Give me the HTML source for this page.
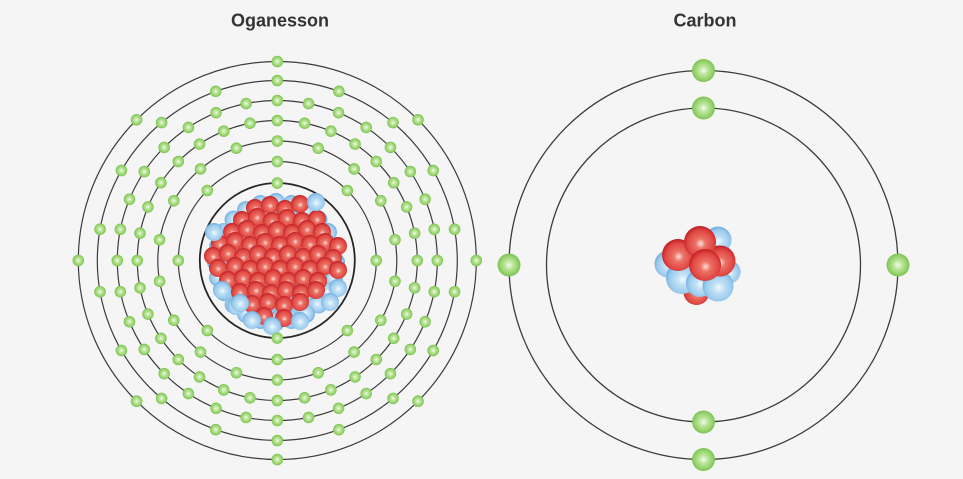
<!DOCTYPE html>
<html><head><meta charset="utf-8"><style>
html,body{margin:0;padding:0;background:#f5f5f5;width:963px;height:479px;overflow:hidden;}
svg{display:block;}
</style></head><body>
<svg width="963" height="479" viewBox="0 0 963 479" xmlns="http://www.w3.org/2000/svg" xmlns:xlink="http://www.w3.org/1999/xlink">
<defs>
<radialGradient id="gg" cx="50%" cy="50%" r="50%">
<stop offset="0" stop-color="#f4fbec"/><stop offset="0.35" stop-color="#bfe6a0"/><stop offset="0.8" stop-color="#92d168"/><stop offset="1" stop-color="#7cc152"/>
</radialGradient>
<radialGradient id="gr" cx="52%" cy="55%" r="52%">
<stop offset="0" stop-color="#fbe0d8"/><stop offset="0.3" stop-color="#ec7267"/><stop offset="0.8" stop-color="#df4641"/><stop offset="1" stop-color="#c4262a"/>
</radialGradient>
<radialGradient id="gb" cx="52%" cy="55%" r="52%">
<stop offset="0" stop-color="#f2f9fe"/><stop offset="0.35" stop-color="#bfe0f5"/><stop offset="0.8" stop-color="#9ccbee"/><stop offset="1" stop-color="#78b2e0"/>
</radialGradient>
<circle id="E" r="11.5" fill="url(#gg)"/>
<circle id="e1" cy="-77.5" r="5.8" fill="url(#gg)"/>
<circle id="e2" cy="-99" r="5.8" fill="url(#gg)"/>
<circle id="e3" cy="-119.5" r="5.8" fill="url(#gg)"/>
<circle id="e4" cy="-140" r="5.8" fill="url(#gg)"/>
<circle id="e5" cy="-160" r="5.8" fill="url(#gg)"/>
<circle id="e6" cy="-180" r="5.8" fill="url(#gg)"/>
<circle id="e7" cy="-199" r="5.8" fill="url(#gg)"/>
<circle id="rs" r="9" fill="url(#gr)"/>
<circle id="bs" r="9" fill="url(#gb)"/>
<circle id="b1" cy="-60" r="9" fill="url(#gb)"/>
<circle id="b2" cy="-45" r="9" fill="url(#gb)"/>
</defs>

<rect x="0" y="0" width="963" height="479" fill="#f5f5f5"/>

<text x="280" y="26.5" font-family="Liberation Sans, sans-serif" font-weight="bold" font-size="18" text-anchor="middle" fill="#333333">Oganesson</text>
<text x="705" y="26.5" font-family="Liberation Sans, sans-serif" font-weight="bold" font-size="18" text-anchor="middle" fill="#333333">Carbon</text>

<g transform="translate(277.3,260.5)" fill="none">
<circle r="77.5" stroke="#262626" stroke-width="1.8"/>
<circle r="99" stroke="#3c3c3c" stroke-width="1.2"/>
<circle r="119.5" stroke="#3c3c3c" stroke-width="1.2"/>
<circle r="140" stroke="#3c3c3c" stroke-width="1.2"/>
<circle r="160" stroke="#3c3c3c" stroke-width="1.2"/>
<circle r="180" stroke="#3c3c3c" stroke-width="1.2"/>
<circle r="199" stroke="#3c3c3c" stroke-width="1.2"/>
</g>

<circle cx="276" cy="262" r="60" fill="#9ccbee"/>
<g transform="translate(276,262)">
<use href="#b1"/><use href="#b1" transform="rotate(15)"/><use href="#b1" transform="rotate(30)"/><use href="#b1" transform="rotate(45)"/><use href="#b1" transform="rotate(60)"/><use href="#b1" transform="rotate(75)"/>
<use href="#b1" transform="rotate(90)"/><use href="#b1" transform="rotate(105)"/><use href="#b1" transform="rotate(120)"/><use href="#b1" transform="rotate(135)"/><use href="#b1" transform="rotate(150)"/><use href="#b1" transform="rotate(165)"/>
<use href="#b1" transform="rotate(180)"/><use href="#b1" transform="rotate(195)"/><use href="#b1" transform="rotate(210)"/><use href="#b1" transform="rotate(225)"/><use href="#b1" transform="rotate(240)"/><use href="#b1" transform="rotate(255)"/>
<use href="#b1" transform="rotate(270)"/><use href="#b1" transform="rotate(285)"/><use href="#b1" transform="rotate(300)"/><use href="#b1" transform="rotate(315)"/><use href="#b1" transform="rotate(330)"/><use href="#b1" transform="rotate(345)"/>
<use href="#b2" transform="rotate(10)"/><use href="#b2" transform="rotate(30)"/><use href="#b2" transform="rotate(50)"/><use href="#b2" transform="rotate(70)"/><use href="#b2" transform="rotate(90)"/><use href="#b2" transform="rotate(110)"/>
<use href="#b2" transform="rotate(130)"/><use href="#b2" transform="rotate(150)"/><use href="#b2" transform="rotate(170)"/><use href="#b2" transform="rotate(190)"/><use href="#b2" transform="rotate(210)"/><use href="#b2" transform="rotate(230)"/>
<use href="#b2" transform="rotate(250)"/><use href="#b2" transform="rotate(270)"/><use href="#b2" transform="rotate(290)"/><use href="#b2" transform="rotate(310)"/><use href="#b2" transform="rotate(330)"/><use href="#b2" transform="rotate(350)"/>
</g>

<g>
<use href="#rs" x="255" y="208"/><use href="#rs" x="270" y="205"/><use href="#rs" x="285" y="209"/><use href="#rs" x="300" y="204"/>
<use href="#rs" x="242" y="220"/><use href="#rs" x="257" y="217"/><use href="#rs" x="272" y="221"/><use href="#rs" x="287" y="218"/><use href="#rs" x="302" y="221"/><use href="#rs" x="317" y="219"/>
<use href="#rs" x="232" y="232"/><use href="#rs" x="247" y="229"/><use href="#rs" x="262" y="233"/><use href="#rs" x="277" y="230"/><use href="#rs" x="292" y="233"/><use href="#rs" x="307" y="229"/><use href="#rs" x="322" y="232"/>
<use href="#rs" x="220" y="244"/><use href="#rs" x="235" y="241"/><use href="#rs" x="250" y="245"/><use href="#rs" x="265" y="242"/><use href="#rs" x="280" y="245"/><use href="#rs" x="295" y="241"/><use href="#rs" x="310" y="244"/><use href="#rs" x="325" y="242"/><use href="#rs" x="338" y="246"/>
<use href="#rs" x="213" y="256"/><use href="#rs" x="228" y="253"/><use href="#rs" x="243" y="257"/><use href="#rs" x="258" y="254"/><use href="#rs" x="273" y="257"/><use href="#rs" x="288" y="254"/><use href="#rs" x="303" y="257"/><use href="#rs" x="318" y="254"/><use href="#rs" x="333" y="258"/>
<use href="#rs" x="218" y="268"/><use href="#rs" x="235" y="266"/><use href="#rs" x="250" y="269"/><use href="#rs" x="265" y="266"/><use href="#rs" x="280" y="269"/><use href="#rs" x="295" y="266"/><use href="#rs" x="310" y="269"/><use href="#rs" x="325" y="266"/><use href="#rs" x="338" y="270"/>
<use href="#rs" x="228" y="280"/><use href="#rs" x="243" y="278"/><use href="#rs" x="258" y="281"/><use href="#rs" x="273" y="278"/><use href="#rs" x="288" y="281"/><use href="#rs" x="303" y="278"/><use href="#rs" x="318" y="281"/>
<use href="#rs" x="240" y="292"/><use href="#rs" x="256" y="290"/><use href="#rs" x="271" y="293"/><use href="#rs" x="286" y="290"/><use href="#rs" x="301" y="293"/><use href="#rs" x="316" y="290"/>
<use href="#rs" x="252" y="304"/><use href="#rs" x="268" y="302"/><use href="#rs" x="284" y="305"/><use href="#rs" x="300" y="302"/>
<use href="#rs" x="264" y="316"/><use href="#rs" x="284" y="318"/>
</g>
<g>
<use href="#bs" x="214" y="232"/><use href="#bs" x="222" y="290"/><use href="#bs" x="236" y="306"/><use href="#bs" x="252" y="320"/>
<use href="#bs" x="300" y="321"/><use href="#bs" x="338" y="288"/><use href="#bs" x="330" y="302"/><use href="#bs" x="316" y="202"/>
<use href="#bs" x="240" y="303"/><use href="#bs" x="272" y="326"/>
</g>

<g transform="translate(277.3,260.5)">
<use href="#e1"/><use href="#e1" transform="rotate(180)"/>

<use href="#e2"/><use href="#e2" transform="rotate(45)"/><use href="#e2" transform="rotate(90)"/><use href="#e2" transform="rotate(135)"/><use href="#e2" transform="rotate(180)"/><use href="#e2" transform="rotate(225)"/><use href="#e2" transform="rotate(270)"/><use href="#e2" transform="rotate(315)"/>

<use href="#e3"/><use href="#e3" transform="rotate(20)"/><use href="#e3" transform="rotate(40)"/><use href="#e3" transform="rotate(60)"/><use href="#e3" transform="rotate(80)"/><use href="#e3" transform="rotate(100)"/><use href="#e3" transform="rotate(120)"/><use href="#e3" transform="rotate(140)"/><use href="#e3" transform="rotate(160)"/><use href="#e3" transform="rotate(180)"/><use href="#e3" transform="rotate(200)"/><use href="#e3" transform="rotate(220)"/><use href="#e3" transform="rotate(240)"/><use href="#e3" transform="rotate(260)"/><use href="#e3" transform="rotate(280)"/><use href="#e3" transform="rotate(300)"/><use href="#e3" transform="rotate(320)"/><use href="#e3" transform="rotate(340)"/>

<use href="#e4"/><use href="#e4" transform="rotate(11.25)"/><use href="#e4" transform="rotate(22.5)"/><use href="#e4" transform="rotate(33.75)"/><use href="#e4" transform="rotate(45)"/><use href="#e4" transform="rotate(56.25)"/><use href="#e4" transform="rotate(67.5)"/><use href="#e4" transform="rotate(78.75)"/><use href="#e4" transform="rotate(90)"/><use href="#e4" transform="rotate(101.25)"/><use href="#e4" transform="rotate(112.5)"/><use href="#e4" transform="rotate(123.75)"/><use href="#e4" transform="rotate(135)"/><use href="#e4" transform="rotate(146.25)"/><use href="#e4" transform="rotate(157.5)"/><use href="#e4" transform="rotate(168.75)"/><use href="#e4" transform="rotate(180)"/><use href="#e4" transform="rotate(191.25)"/><use href="#e4" transform="rotate(202.5)"/><use href="#e4" transform="rotate(213.75)"/><use href="#e4" transform="rotate(225)"/><use href="#e4" transform="rotate(236.25)"/><use href="#e4" transform="rotate(247.5)"/><use href="#e4" transform="rotate(258.75)"/><use href="#e4" transform="rotate(270)"/><use href="#e4" transform="rotate(281.25)"/><use href="#e4" transform="rotate(292.5)"/><use href="#e4" transform="rotate(303.75)"/><use href="#e4" transform="rotate(315)"/><use href="#e4" transform="rotate(326.25)"/><use href="#e4" transform="rotate(337.5)"/><use href="#e4" transform="rotate(348.75)"/>

<use href="#e5"/><use href="#e5" transform="rotate(11.25)"/><use href="#e5" transform="rotate(22.5)"/><use href="#e5" transform="rotate(33.75)"/><use href="#e5" transform="rotate(45)"/><use href="#e5" transform="rotate(56.25)"/><use href="#e5" transform="rotate(67.5)"/><use href="#e5" transform="rotate(78.75)"/><use href="#e5" transform="rotate(90)"/><use href="#e5" transform="rotate(101.25)"/><use href="#e5" transform="rotate(112.5)"/><use href="#e5" transform="rotate(123.75)"/><use href="#e5" transform="rotate(135)"/><use href="#e5" transform="rotate(146.25)"/><use href="#e5" transform="rotate(157.5)"/><use href="#e5" transform="rotate(168.75)"/><use href="#e5" transform="rotate(180)"/><use href="#e5" transform="rotate(191.25)"/><use href="#e5" transform="rotate(202.5)"/><use href="#e5" transform="rotate(213.75)"/><use href="#e5" transform="rotate(225)"/><use href="#e5" transform="rotate(236.25)"/><use href="#e5" transform="rotate(247.5)"/><use href="#e5" transform="rotate(258.75)"/><use href="#e5" transform="rotate(270)"/><use href="#e5" transform="rotate(281.25)"/><use href="#e5" transform="rotate(292.5)"/><use href="#e5" transform="rotate(303.75)"/><use href="#e5" transform="rotate(315)"/><use href="#e5" transform="rotate(326.25)"/><use href="#e5" transform="rotate(337.5)"/><use href="#e5" transform="rotate(348.75)"/>

<use href="#e6"/><use href="#e6" transform="rotate(20)"/><use href="#e6" transform="rotate(40)"/><use href="#e6" transform="rotate(60)"/><use href="#e6" transform="rotate(80)"/><use href="#e6" transform="rotate(100)"/><use href="#e6" transform="rotate(120)"/><use href="#e6" transform="rotate(140)"/><use href="#e6" transform="rotate(160)"/><use href="#e6" transform="rotate(180)"/><use href="#e6" transform="rotate(200)"/><use href="#e6" transform="rotate(220)"/><use href="#e6" transform="rotate(240)"/><use href="#e6" transform="rotate(260)"/><use href="#e6" transform="rotate(280)"/><use href="#e6" transform="rotate(300)"/><use href="#e6" transform="rotate(320)"/><use href="#e6" transform="rotate(340)"/>

<use href="#e7"/><use href="#e7" transform="rotate(45)"/><use href="#e7" transform="rotate(90)"/><use href="#e7" transform="rotate(135)"/><use href="#e7" transform="rotate(180)"/><use href="#e7" transform="rotate(225)"/><use href="#e7" transform="rotate(270)"/><use href="#e7" transform="rotate(315)"/>
</g>

<g fill="none" stroke="#3c3c3c" stroke-width="1.3">
<circle cx="703.5" cy="265" r="194.5"/>
<circle cx="703.5" cy="265" r="157"/>
</g>
<g>
<circle cx="718" cy="240" r="13.5" fill="url(#gb)"/>
<circle cx="729" cy="272" r="11.5" fill="url(#gb)"/>
<circle cx="696.5" cy="292" r="13" fill="url(#gr)"/>
<circle cx="668" cy="264" r="13.5" fill="url(#gb)"/>
<circle cx="682" cy="278" r="16" fill="url(#gb)"/>
<circle cx="700" cy="283" r="14" fill="url(#gb)"/>
<circle cx="718" cy="286" r="15.5" fill="url(#gb)"/>
<circle cx="678" cy="255" r="16" fill="url(#gr)"/>
<circle cx="720" cy="261" r="15.5" fill="url(#gr)"/>
<circle cx="700" cy="242" r="16" fill="url(#gr)"/>
<circle cx="705" cy="265" r="16" fill="url(#gr)"/>
</g>
<use href="#E" x="703.5" y="70.5"/>
<use href="#E" x="703.5" y="459.5"/>
<use href="#E" x="509" y="265"/>
<use href="#E" x="898" y="265"/>
<use href="#E" x="703.5" y="108"/>
<use href="#E" x="703.5" y="422"/>
</svg>
</body></html>
